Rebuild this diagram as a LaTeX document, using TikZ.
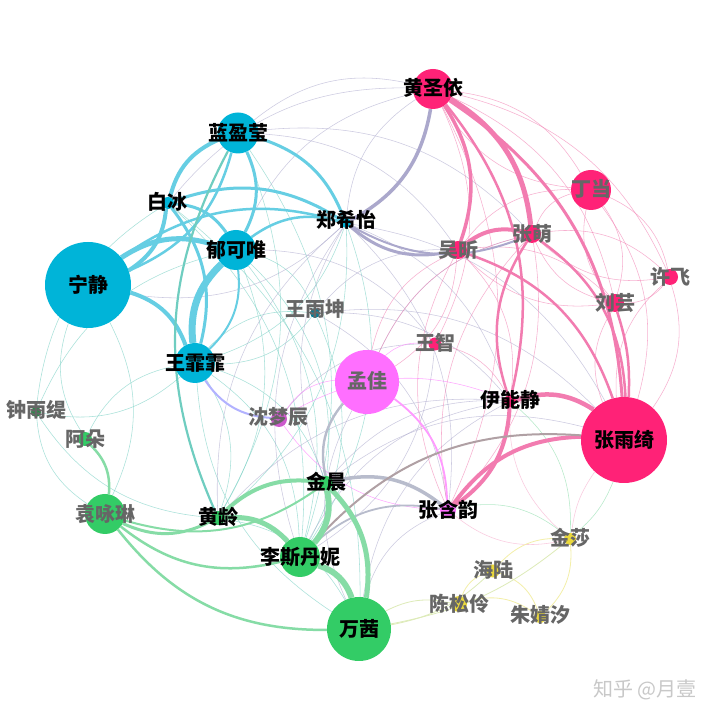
\documentclass[tikz,border=0pt]{standalone}
\usepackage{fontspec}
\setmainfont{Noto Sans CJK SC}
\usetikzlibrary{backgrounds}
\definecolor{cblue}{HTML}{00B4D8}
\definecolor{cpink}{HTML}{FF2277}
\definecolor{cgreen}{HTML}{33CC66}
\definecolor{cmag}{HTML}{FF6FFF}
\definecolor{cyel}{HTML}{EBD93C}
\definecolor{eblue}{HTML}{66CEE3}
\definecolor{epink}{HTML}{F27CB0}
\definecolor{egreen}{HTML}{86DCA6}
\definecolor{epur}{HTML}{ABA8CC}
\definecolor{egray}{HTML}{B8BCCC}
\definecolor{ebrown}{HTML}{B0A0A4}
\definecolor{eteal}{HTML}{6FCDC0}
\definecolor{eyel}{HTML}{F3EFA8}
\definecolor{eolive}{HTML}{DDEBB8}
\definecolor{tgray}{HTML}{666666}
\definecolor{tmark}{HTML}{C8C8C8}
\tikzset{
  dot/.style={circle,draw=none,inner sep=0pt},
  lab/.style={inner sep=0pt,font=\fontsize{20}{20}\selectfont\bfseries},
  arc/.style={bend left=26},
  faint/.style={line width=0.55pt,opacity=0.6},
}
% id, cx, cy, r, colour, label x, label y, text colour, text
\newcommand{\person}[9]{%
  \node[dot,fill=#5,minimum size=2*#4 pt] (#1) at (#2,{720-#3}) {};
  \node[lab,text=#8] (#1t) at (#6,{720-#7}) {#9};
}
\begin{document}
\begin{tikzpicture}[x=1pt,y=1pt]
\useasboundingbox (0,0) rectangle (720,720);
\person{ningjing}{88}{285}{43}{cblue}{88}{285}{black}{宁静}
\person{lanyy}{238}{133}{20.5}{cblue}{238}{133}{black}{蓝盈莹}
\person{baibing}{168}{203}{6}{cblue}{167}{202}{black}{白冰}
\person{yuky}{236}{250}{20}{cblue}{236}{250}{black}{郁可唯}
\person{zhengxy}{346}{223}{5}{cblue}{346}{220}{black}{郑希怡}
\person{wangff}{195}{363}{20}{cblue}{195}{363}{black}{王霏霏}
\person{wangyk}{315}{313}{5}{cblue!70!black}{315}{309}{tgray}{王雨坤}
\person{mengjia}{367}{382}{32}{cmag}{367}{381}{tgray}{孟佳}
\person{zhongyt}{36}{412}{5}{cgreen!70!black}{36}{410}{tgray}{钟雨缇}
\person{aduo}{85}{439}{7}{cgreen}{85}{439}{tgray}{阿朵}
\person{yuanyl}{105}{514}{20}{cgreen}{105}{514}{tgray}{袁咏琳}
\person{shenmc}{279}{419}{8}{cmag!80!black}{278}{417}{tgray}{沈梦辰}
\person{huangl}{218}{518}{7}{cgreen}{218}{517}{black}{黄龄}
\person{jinc}{326}{483}{7}{cgreen}{326}{482}{black}{金晨}
\person{lisdn}{300}{557}{20}{cgreen}{300}{557}{black}{李斯丹妮}
\person{wanq}{359}{629}{32}{cgreen}{359}{629}{black}{万茜}
\person{zhanghy}{448}{510}{8}{cmag}{448}{510}{black}{张含韵}
\person{yinj}{510}{401}{6}{cpink}{510}{400}{black}{伊能静}
\person{zhangyq}{624}{440}{43}{cpink}{624}{440}{black}{张雨绮}
\person{huangsy}{433}{89}{20}{cpink}{433}{88}{black}{黄圣依}
\person{dingd}{591}{190}{20}{cpink}{591}{189}{tgray}{丁当}
\person{zhangm}{532}{234}{9}{cpink}{532}{234}{tgray}{张萌}
\person{wux}{458}{250}{9}{cpink}{458}{250}{tgray}{吴昕}
\person{xuf}{670}{277}{8}{cpink}{670}{277}{tgray}{许飞}
\person{liuy}{615}{303}{9}{cpink}{615}{303}{tgray}{刘芸}
\person{wangz}{435}{344}{6.5}{cpink}{435}{343}{tgray}{王智}
\person{jins}{570}{539}{6}{cyel}{570}{538}{tgray}{金莎}
\person{hail}{493}{571}{6.5}{cyel}{493}{570}{tgray}{海陆}
\person{chensl}{459}{604}{8}{cyel}{459}{604}{tgray}{陈松伶}
\person{zhujx}{540}{617}{6}{cyel}{540}{615}{tgray}{朱婧汐}
\node[inner sep=0pt,text=tmark,font=\fontsize{20}{20}\selectfont] (mark) at (645,30) {知乎 @月壹};
\begin{scope}[on background layer]
\fill[white] (0,0) rectangle (720,720);
% faint edges
\foreach \a/\b in {aduo/ningjing,ningjing/yuanyl,yuanyl/zhongyt,wangff/zhongyt,huangl/zhongyt,zhongyt/yuky,zhongyt/baibing,aduo/wangff,yuky/wangyk,wangff/wangyk,baibing/wanq,yuky/huangl,yuky/lisdn,wangff/huangl,wangff/lisdn,wangff/jinc,baibing/lisdn,lanyy/huangl,lanyy/lisdn,wangyk/lisdn,zhengxy/wangff,zhengxy/huangl,zhengxy/lisdn,wanq/wangff,yuky/jinc,huangl/wanq,wangyk/wangff}
  \draw[eteal,faint] (\a) to[arc] (\b);
\foreach \a/\b in {lanyy/huangsy,zhengxy/huangsy,baibing/huangsy,yuky/huangsy,lanyy/wux,lanyy/zhangm,zhengxy/ningjing,yuky/zhengxy,wangyk/zhangyq,wangyk/yinj,zhengxy/yinj,zhengxy/zhangyq,jinc/yinj,jinc/zhangyq,huangl/yinj,lisdn/yinj,wanq/yinj,wanq/zhanghy,lisdn/zhengxy,jinc/zhengxy,huangl/zhengxy,zhengxy/zhanghy,wangz/lisdn,shenmc/wangz,wangyk/zhanghy,wanq/mengjia,wangyk/wux,mengjia/zhangm,yuky/wangz}
  \draw[epur,faint] (\a) to[arc] (\b);
\foreach \a/\b in {dingd/huangsy,huangsy/xuf,huangsy/liuy,huangsy/dingd,dingd/zhangyq,dingd/liuy,liuy/dingd,dingd/xuf,zhangm/dingd,wux/dingd,xuf/zhangyq,zhangyq/xuf,xuf/liuy,xuf/zhangm,zhangm/xuf,liuy/wux,liuy/zhangm,wux/liuy,mengjia/wux,wux/mengjia,zhanghy/wux,zhanghy/zhangm,zhangm/zhanghy,huangsy/wangz,wangz/yinj,wux/yinj,huangsy/zhanghy,wux/zhangm,mengjia/zhangm,zhangyq/liuy}
  \draw[epink,faint] (\a) to[arc] (\b);
\foreach \a/\b in {shenmc/mengjia,shenmc/yinj,zhanghy/shenmc,mengjia/wangz}
  \draw[cmag,faint] (\a) to[arc] (\b);
\draw[epink,faint,opacity=0.4] (jins) to[arc] (zhanghy);
\draw[epink,faint,opacity=0.4] (jins) to[arc] (yinj);
\draw[epink,faint,opacity=0.4] (jins) to[bend left=14] (zhangyq);
\draw[egreen,faint] (zhanghy) to[arc] (jins);
\draw[egreen,faint] (yinj) to[arc] (jins);
\draw[egreen,faint] (zhangyq) to[bend left=14] (jins);
% strong edges
\foreach \a/\b/\w in {ningjing/wangff/4,ningjing/yuky/5,baibing/ningjing/4,lanyy/ningjing/2.5,ningjing/zhengxy/2.5,baibing/lanyy/4,lanyy/yuky/3,lanyy/zhengxy/3,baibing/zhengxy/3,baibing/yuky/3,baibing/wangff/3,wangff/yuky/7,yuky/wangff/2,yuky/zhengxy/2.5}
  \draw[eblue,line width=\w pt] (\a) to[arc] (\b);
\draw[eteal,line width=2.2pt] (huangl) to[arc] (lanyy);
\foreach \a/\b/\w in {huangsy/zhengxy/3.5,wux/zhengxy/3,zhangm/zhengxy/2}
  \draw[epur,line width=\w pt] (\a) to[arc] (\b);
\foreach \a/\b/\w in {huangsy/wux/3.5,huangsy/zhangm/5,huangsy/yinj/2.5,huangsy/zhangyq/3,zhangm/zhangyq/2.5,wux/zhangyq/2.5,wux/zhangm/4,yinj/zhangm/2.5,yinj/zhangyq/4.5,zhanghy/zhangyq/4,yinj/zhanghy/4}
  \draw[epink,line width=\w pt] (\a) to[arc] (\b);
\draw[epink,line width=2.5pt] (liuy) to[bend left=10] (zhangyq);
\draw[cmag!70,line width=1.8pt] (mengjia) to[arc] (zhanghy);
\draw[egray,line width=3.5pt] (jinc) to[arc] (zhanghy);
\draw[egray,line width=1.8pt] (lisdn) to[arc] (zhanghy);
\draw[egray,line width=2.4pt] (jinc) to[arc] (mengjia);
\draw[ebrown,line width=2pt] (lisdn) to[arc] (zhangyq);
\draw[blue!30!white,line width=2pt] (shenmc) to[arc] (wangff);
\foreach \a/\b/\w in {aduo/yuanyl/2.5,huangl/yuanyl/3,jinc/yuanyl/2,lisdn/yuanyl/2.5,wanq/yuanyl/2.5,huangl/jinc/4,huangl/lisdn/5,jinc/lisdn/6,jinc/wanq/5,lisdn/wanq/6}
  \draw[egreen,line width=\w pt] (\a) to[arc] (\b);
\foreach \a/\b in {hail/jins,chensl/hail,hail/zhujx,jins/zhujx,chensl/zhujx}
  \draw[eyel,line width=0.8pt] (\a) to[arc] (\b);
\draw[eolive,line width=0.8pt] (wanq) to[bend left=20] (chensl);
\draw[eolive,line width=0.8pt] (hail) to[bend left=16] (wanq);
\draw[eolive,line width=0.8pt] (jins) to[bend left=14] (wanq);
\end{scope}
\end{tikzpicture}
\end{document}
